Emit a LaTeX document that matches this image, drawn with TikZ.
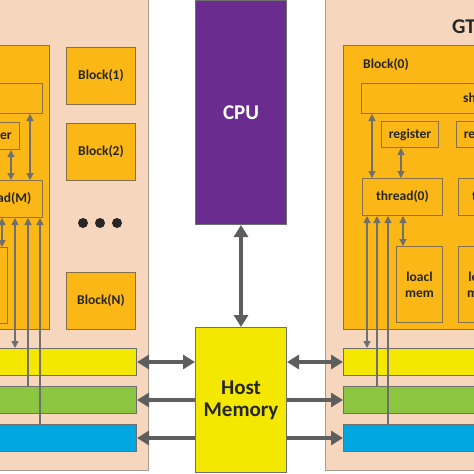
\documentclass[tikz,border=0pt]{standalone}
\usepackage{fontspec}
\setmainfont{Carlito}
\usetikzlibrary{arrows.meta,calc}
\definecolor{peach}{HTML}{F6D6BC}
\definecolor{pborder}{HTML}{A99B91}
\definecolor{gold}{HTML}{FBB715}
\definecolor{bbord}{HTML}{85714E}
\definecolor{ybar}{HTML}{F5E800}
\definecolor{gbar}{HTML}{8CC53F}
\definecolor{bbar}{HTML}{00A6E0}
\definecolor{purp}{HTML}{6A2C8E}
\definecolor{agray}{HTML}{5E5E5E}
\definecolor{tgray}{HTML}{6F6F6F}
\definecolor{txt}{HTML}{262626}
\tikzset{
  panel/.style={draw=pborder, fill=peach, line width=0.8pt},
  gbox/.style={draw=bbord, fill=gold, line width=1pt, inner sep=0pt, anchor=north west, text=txt, font=\bfseries\fontsize{13.5}{16}\selectfont, align=center},
  ibox/.style={draw=bbord, line width=1pt, inner sep=0pt, anchor=north west, text=txt, font=\bfseries\fontsize{13.5}{16}\selectfont, align=center},
  barbox/.style={draw=tgray, line width=1pt, inner sep=0pt, anchor=north west},
  bigbox/.style={draw=tgray, line width=1pt, inner sep=0pt, anchor=north west, font=\bfseries\fontsize{21}{25}\selectfont, align=center},
  thin/.style={draw=tgray, line width=1.3pt},
  tarr/.style={thin, -{Triangle[length=7pt,width=7pt]}},
  tdarr/.style={thin, {Triangle[length=7pt,width=7pt]}-{Triangle[length=7pt,width=7pt]}},
  karr/.style={draw=agray, line width=4pt, -{Triangle[length=12pt,width=14pt]}},
  kdarr/.style={draw=agray, line width=4pt, {Triangle[length=12pt,width=14pt]}-{Triangle[length=12pt,width=14pt]}},
  dotc/.style={circle, fill=txt, inner sep=0pt, minimum size=10pt}
}
\begin{document}
\begin{tikzpicture}[x=1pt,y=-1pt]
\useasboundingbox (0,0) rectangle (474,474);
\clip (0,0) rectangle (474,474);
\fill[white] (0,0) rectangle (474,474);
% panels
\node[panel, anchor=north west, minimum width=158pt, minimum height=476pt, inner sep=0pt] (lpanel) at (-10,-6) {};
\node[panel, anchor=north west, minimum width=170pt, minimum height=476pt, inner sep=0pt] (rpanel) at (325,-6) {};
% ---------- left GPU ----------
\node[gbox, minimum width=109pt, minimum height=284pt] (lblk) at (-60,45) {};
\node[ibox, minimum width=102pt, minimum height=30pt] (lsh) at (-60,83) {};
\node[ibox, minimum width=58pt, minimum height=27pt] (lreg) at (-39,122) {register};
\node[ibox, minimum width=80pt, minimum height=37pt] (lth) at (-38,180) {thread(M)};
\node[ibox, minimum width=46pt, minimum height=76pt] (lloc) at (-39,247) {loacl\\mem};
\node[gbox, minimum width=69pt, minimum height=57pt] (b1) at (66,47) {Block(1)};
\node[gbox, minimum width=69pt, minimum height=57pt] (b2) at (66,123) {Block(2)};
\node[gbox, minimum width=69pt, minimum height=57pt] (bn) at (66,272) {Block(N)};
\node[dotc] (d1) at (83,223) {};
\node[dotc] (d2) at (100,223) {};
\node[dotc] (d3) at (117,223) {};
\node[barbox, fill=ybar, minimum width=146pt, minimum height=27pt] (lyel) at (-10,348) {};
\node[barbox, fill=gbar, minimum width=146pt, minimum height=27pt] (lgrn) at (-10,386) {};
\node[barbox, fill=bbar, minimum width=146pt, minimum height=27pt] (lblu) at (-10,424) {};
% left inner connectors
\draw[tdarr] (lreg.south -| 11,0) -- (lth.north -| 11,0);
\draw[tdarr] (lsh.south -| 30,0) -- (lth.north -| 30,0);
\draw[tdarr] (lth.south -| 2,0) -- (lloc.north -| 2,0);
\draw[tdarr] (lth.south -| 15,0) -- (lyel.north -| 15,0);
\draw[tarr] (lgrn.north -| 28,0) -- (lth.south -| 28,0);
\draw[tarr] (lblu.north -| 40,0) -- (lth.south -| 40,0);
% ---------- right GPU ----------
\node[anchor=west, text=txt, font=\bfseries\fontsize{21}{24}\selectfont, inner sep=0pt] (gt) at (452,27) {GT};
\node[gbox, minimum width=150pt, minimum height=284pt] (rblk) at (343,45) {};
\node[anchor=center, text=txt, font=\bfseries\fontsize{13.5}{16}\selectfont, inner sep=0pt] (blk0) at (386,65) {Block(0)};
\node[ibox, minimum width=130pt, minimum height=30pt] (rsh) at (361,83) {};
\node[anchor=west, text=txt, font=\bfseries\fontsize{13.5}{16}\selectfont, inner sep=0pt] (rshl) at (463,99) {shared memory};
\node[ibox, minimum width=57pt, minimum height=26pt] (rreg) at (381,121) {register};
\node[ibox, minimum width=57pt, minimum height=26pt] (rreg2) at (456,121) {register};
\node[ibox, minimum width=80pt, minimum height=37pt] (rth) at (362,178) {thread(0)};
\node[ibox, minimum width=80pt, minimum height=37pt] (rth2) at (458,178) {thread(1)};
\node[ibox, minimum width=46pt, minimum height=76pt] (rloc) at (396,246) {loacl\\mem};
\node[ibox, minimum width=46pt, minimum height=76pt] (rloc2) at (458,246) {loacl\\mem};
\node[barbox, fill=ybar, minimum width=150pt, minimum height=27pt] (ryel) at (343,348) {};
\node[barbox, fill=gbar, minimum width=150pt, minimum height=27pt] (rgrn) at (343,386) {};
\node[barbox, fill=bbar, minimum width=150pt, minimum height=27pt] (rblu) at (343,424) {};
% right inner connectors
\draw[tdarr] (rsh.south -| 372,0) -- (rth.north -| 372,0);
\draw[tdarr] (rreg.south -| 401,0) -- (rth.north -| 401,0);
\draw[tdarr] (rth.south -| 403,0) -- (rloc.north -| 403,0);
\draw[tdarr] (rth.south -| 367,0) -- (ryel.north -| 367,0);
\draw[tarr] (rgrn.north -| 377,0) -- (rth.south -| 377,0);
\draw[tarr] (rblu.north -| 388,0) -- (rth.south -| 388,0);
% ---------- center ----------
\node[bigbox, fill=purp, text=white, minimum width=91pt, minimum height=224pt] (cpu) at (195,0) {CPU};
\node[bigbox, fill=ybar, text=txt, minimum width=91pt, minimum height=145pt] (host) at (195,327) {Host\\[-3pt]Memory};
\draw[kdarr] (cpu.south) -- (host.north);
\draw[kdarr] (lyel.east) -- (host.west |- lyel.east);
\draw[karr] (host.west |- lgrn.east) -- (lgrn.east);
\draw[karr] (host.west |- lblu.east) -- (lblu.east);
\draw[kdarr] (host.east |- ryel.west) -- (ryel.west);
\draw[karr] (host.east |- rgrn.west) -- (rgrn.west);
\draw[karr] (host.east |- rblu.west) -- (rblu.west);
\end{tikzpicture}
\end{document}
